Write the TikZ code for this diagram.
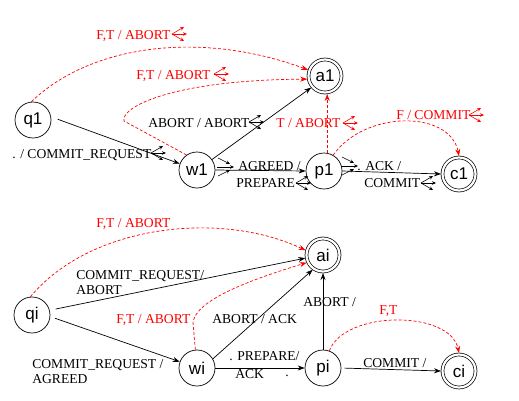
\documentclass[tikz,border=0pt]{standalone}
\usepackage{fontspec}
\setmainfont{Liberation Serif}
\newfontfamily\nodefont{Liberation Sans}
\usetikzlibrary{arrows.meta}
\begin{document}
\begin{tikzpicture}[x=1pt,y=-1pt,
  line width=0.7pt,
  state/.style={circle,draw,minimum size=36pt,inner sep=0pt,font=\nodefont\fontsize{17}{17}\selectfont},
  final/.style={circle,draw,double,double distance=2.2pt,minimum size=33pt,inner sep=0pt,outer sep=1.5pt,font=\nodefont\fontsize{17}{17}\selectfont},
  lbl/.style={anchor=base west,inner sep=0pt,font=\fontsize{13.6}{13.6}\selectfont},
  edge/.style={-{Stealth[length=7pt,width=5pt]}},
  redge/.style={edge,red,dash pattern=on 3pt off 2pt},
  tip/.style={-{Stealth[length=4pt,width=3.5pt]},line width=0.6pt},
  sendmsg/.pic={\draw[tip] (0,0) -- (12,-7); \draw[tip] (0,0) -- (15,0); \draw[tip] (0,0) -- (12,7);},
  recvmsg/.pic={\draw[tip] (-16,-9) -- (-4,-3); \draw[tip] (-17,0) -- (0,0); \draw[tip] (-16,9) -- (-4,3);}
]
\useasboundingbox (0,0) rectangle (519,400);

% ---------- top machine ----------
\node[state] (q1) at (33,120) {q1};
\node[state] (w1) at (197,170) {w1};
\node[final] (a1) at (325,76) {a1};
\node[state] (p1) at (324,171) {p1};
\node[final] (c1) at (459,174) {c1};

\draw[edge,shorten <=7pt] (q1.10) -- (w1.160);
\draw[edge] (w1.35) -- (a1.220);
\draw[edge] (w1.east) -- (p1.west);
\draw[edge] (p1.east) -- (c1.west);

\draw[redge] (q1.95) .. controls (90,45) and (200,30) .. (a1.160);
\draw[redge] (w1.125) -- (124,121) .. controls (120,108) and (170,80) .. (a1.190);
\draw[redge] (p1.80) -- (p1.80 |- a1.south);
\draw[redge] (p1.60) .. controls (365,110) and (450,110) .. (c1.north);

\node[lbl,red] (l1) at (96,39) {F,T / ABORT};
\pic[red] at (172,34) {sendmsg};
\node[lbl,red] (l2) at (136,79) {F,T / ABORT};
\pic[red] at (214,74) {sendmsg};
\node[lbl] (l3) at (148,127) {ABORT / ABORT};
\pic at (249,122) {sendmsg};
\node[lbl] (l4) at (12,158) {. / COMMIT\_REQUEST};
\pic at (151,153) {sendmsg};
\node[lbl] (l5) at (238,170) {AGREED /};
\pic at (234,167) {recvmsg};
\node[lbl] (l6) at (236,187) {PREPARE};
\pic at (296,183) {sendmsg};
\node[lbl,red] (l7) at (276,127) {T / ABORT};
\pic[red] at (343,123) {sendmsg};
\node[lbl,red] (l8) at (396,119) {F / COMMIT};
\pic[red] at (469,115) {sendmsg};
\node[lbl] (l9) at (357,170) {. ACK /};
\pic at (358,166) {recvmsg};
\node[lbl] (l10) at (364,187) {COMMIT};
\pic at (421,183) {sendmsg};

% ---------- bottom machine ----------
\node[state] (qi) at (32,315) {qi};
\node[state] (wi) at (197,368) {wi};
\node[final] (ai) at (323,255) {ai};
\node[state] (pi) at (323,368) {pi};
\node[final] (ci) at (459,371) {ci};

\draw[edge,shorten <=6pt] (qi.15) -- (ai.190);
\draw[edge,shorten <=5pt] (qi.-5) -- (wi.160);
\draw[edge] (wi.30) -- (ai.235);
\draw[edge] (wi.east) -- (pi.west);
\draw[edge] (pi.north) -- (ai.south);
\draw[edge,shorten <=3pt] (pi.east) -- (ci.west);

\draw[redge] (qi.95) .. controls (90,225) and (220,210) .. (ai.165);
\draw[redge] (wi.95) -- (193,323) .. controls (195,300) and (250,280) .. (ai.205);
\draw[redge] (pi.70) .. controls (345,310) and (450,310) .. (ci.north);

\node[lbl,red] (m1) at (96,227) {F,T / ABORT};
\node[lbl] (m2) at (76,279) {COMMIT\_REQUEST/};
\node[lbl] (m3) at (76,294) {ABORT};
\node[lbl,red] (m4) at (116,323) {F,T / ABORT};
\node[lbl] (m5) at (212,323) {ABORT / ACK};
\node[lbl] (m6) at (32,368) {COMMIT\_REQUEST /};
\node[lbl] (m7) at (32,383) {AGREED};
\node[lbl] (m8) at (229,360) {. PREPARE/};
\node[lbl] (m9) at (235,378) {ACK};
\node[lbl] (m10) at (285,376) {.};
\node[lbl] (m11) at (303,306) {ABORT /};
\node[lbl,red] (m12) at (379,314) {F,T};
\node[lbl] (m13) at (363,367) {COMMIT /};
\end{tikzpicture}
\end{document}
